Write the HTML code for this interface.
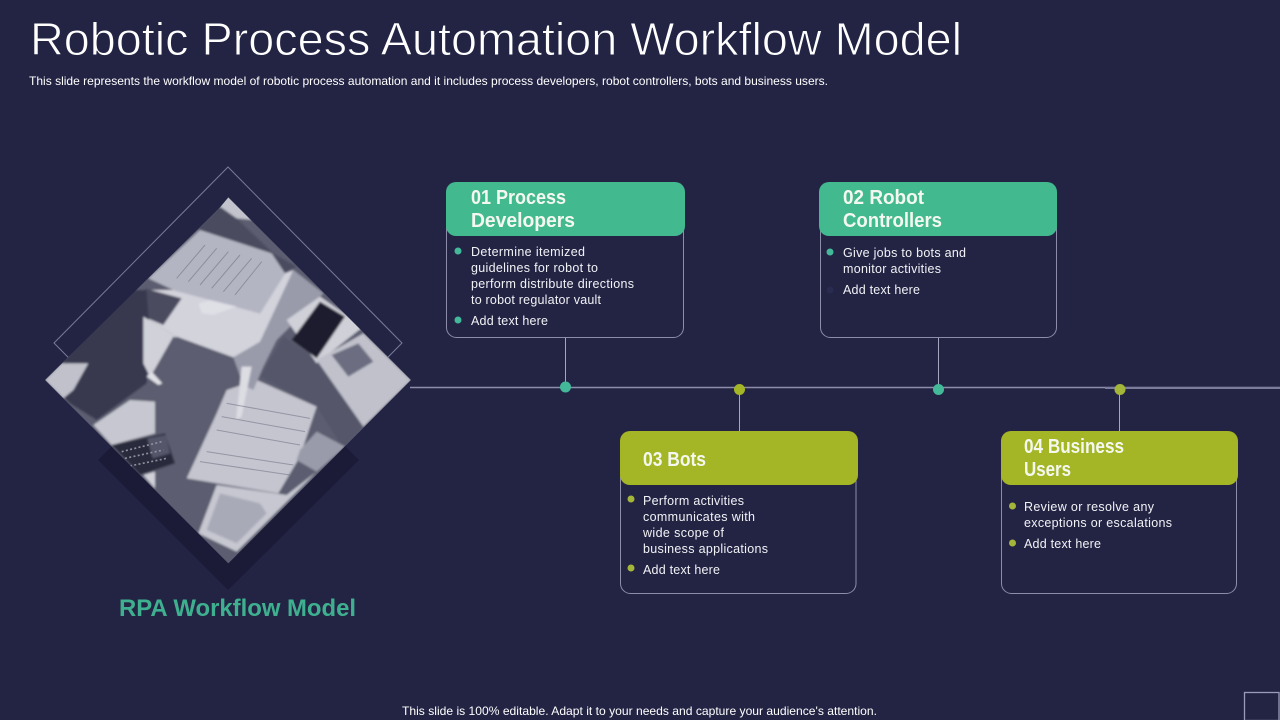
<!DOCTYPE html>
<html><head><meta charset="utf-8"><style>
html,body{margin:0;padding:0;background:#232444;width:1280px;height:720px;overflow:hidden}
svg{display:block}
text{font-family:"Liberation Sans",sans-serif;fill:#fff}
.b{font-size:12.5px;fill:#f2f2f6}
.h{font-size:20px;font-weight:bold;fill:#f4f8f0}
</style></head><body>
<svg width="1280" height="720" viewBox="0 0 1280 720" xmlns="http://www.w3.org/2000/svg">
<defs>
<clipPath id="dia"><polygon points="570,172 595,142 1143,690 595,1240 45,690"/></clipPath>
<filter id="soft"><feGaussianBlur stdDeviation="3"/></filter>
</defs>
<rect width="1280" height="720" fill="#232444"/>
<text x="30" y="55" font-size="46" stroke="#232444" stroke-width="0.9" textLength="932" lengthAdjust="spacingAndGlyphs">Robotic Process Automation Workflow Model</text>
<text x="29" y="85" font-size="12" textLength="799" lengthAdjust="spacingAndGlyphs">This slide represents the workflow model of robotic process automation and it includes process developers, robot controllers, bots and business users.</text>

<polygon points="228,167 402,343 228,519 54,343" fill="none" stroke="#7a7b9c" stroke-width="1"/>
<polygon points="228,330 359,460 228,590 98,460" fill="#1b1b38"/>

<g transform="translate(30,150) scale(0.33333)">
<g clip-path="url(#dia)">
<g filter="url(#soft)">
<rect x="0" y="100" width="1200" height="1200" fill="#5c5d70"/>
<polygon points="560,170 595,135 670,210 620,205" fill="#c2c3cd"/>
<polygon points="500,240 570,170 620,205 730,310 800,350 760,370 725,310 510,240" fill="#4b4c60"/>
<polygon points="355,385 510,240 725,310 765,370 690,490 430,420" fill="#b4b5c2"/>
<polygon points="430,420 690,490 765,370 790,360 720,560 610,622 440,560 340,500 355,420" fill="#d2d3db"/>
<polygon points="345,415 455,445 400,525 340,500" fill="#4b4c60"/>
<polygon points="130,600 300,420 350,420 360,560 350,700 200,810 120,760 50,690" fill="#38394f"/>
<polygon points="45,690 95,640 175,640 130,720 100,745" fill="#c0c1cb"/>
<polygon points="340,500 440,560 360,680 340,640" fill="#d0d1d9"/>
<polygon points="430,560 600,620 600,1240 540,1170 370,1000 375,750 350,700" fill="#5c5d70"/>
<polygon points="190,825 300,750 375,755 375,850 245,885" fill="#c6c7d0"/>
<polygon points="245,885 405,850 435,940 330,975" fill="#2a2b3e"/>
<polygon points="352,865 408,855 420,910 368,925" fill="#55566a"/>
<polygon points="340,975 375,965 375,1015" fill="#d0d1d9"/>
<polygon points="690,680 760,560 860,630 1000,830 940,895 860,770" fill="#55566a"/>
<polygon points="590,720 680,690 860,770 810,920 745,1030 470,985 560,790" fill="#c4c5cf"/>
<polygon points="790,360 880,430 740,570 700,650 670,720 640,705 610,622 690,575" fill="#9a9baa"/>
<polygon points="770,510 870,440 1000,530 860,640" fill="#cfd0d8"/>
<polygon points="785,570 870,455 945,500 860,625" fill="#1c1d2e"/>
<polygon points="860,630 1000,550 1143,690 1000,830" fill="#c0c1cb"/>
<polygon points="905,615 985,580 1030,635 955,680" fill="#6c6d80"/>
<polygon points="505,1150 560,1005 770,1035 860,965 620,1205" fill="#c6c7d0"/>
<polygon points="530,1140 570,1030 690,1060 710,1090 620,1180" fill="#a9aab8"/>
<polygon points="810,900 860,845 945,890 860,965 800,930" fill="#9a9baa"/>
<polygon points="635,650 665,650 635,800 618,810" fill="#dcdde3"/>
<polygon points="350,680 365,665 397,700 385,705" fill="#e0e1e7"/>
<polygon points="505,460 540,450 620,470 550,495 515,490" fill="#dfe0e6"/>
</g>
<g stroke="#6d6e80" stroke-width="3" opacity="0.55">
<line x1="440" y1="385" x2="525" y2="285"/><line x1="475" y1="395" x2="560" y2="295"/><line x1="510" y1="405" x2="595" y2="305"/><line x1="545" y1="415" x2="630" y2="315"/><line x1="580" y1="425" x2="665" y2="325"/><line x1="615" y1="435" x2="695" y2="335"/>
<line x1="510" y1="935" x2="780" y2="975"/><line x1="530" y1="905" x2="790" y2="945"/><line x1="590" y1="760" x2="840" y2="805"/><line x1="575" y1="800" x2="825" y2="845"/><line x1="560" y1="840" x2="810" y2="885"/>
</g>
<g stroke="#8f909e" stroke-width="5" stroke-dasharray="6 7">
<line x1="275" y1="905" x2="395" y2="875"/><line x1="285" y1="925" x2="400" y2="900"/><line x1="300" y1="948" x2="410" y2="925"/>
</g>
</g>
</g>

<text x="119" y="616" font-size="24" font-weight="bold" style="fill:#3fb08f" textLength="237" lengthAdjust="spacingAndGlyphs">RPA Workflow Model</text>

<line x1="410" y1="387.5" x2="1280" y2="387.5" stroke="#8d8daa" stroke-width="1.5"/>
<line x1="1105" y1="388" x2="1280" y2="388" stroke="#7b7b9c" stroke-width="2"/>
<line x1="565.5" y1="338" x2="565.5" y2="387" stroke="#a5a6c0" stroke-width="1"/>
<line x1="739.5" y1="389" x2="739.5" y2="431" stroke="#a5a6c0" stroke-width="1"/>
<line x1="938.5" y1="338" x2="938.5" y2="389" stroke="#a5a6c0" stroke-width="1"/>
<line x1="1119.5" y1="389" x2="1119.5" y2="431" stroke="#a5a6c0" stroke-width="1"/>
<circle cx="565.5" cy="387" r="5.5" fill="#43b999"/>
<circle cx="739.5" cy="389.5" r="5.5" fill="#a4b625"/>
<circle cx="938.5" cy="389.5" r="5.5" fill="#43b999"/>
<circle cx="1120" cy="389.5" r="5.5" fill="#a4b63a"/>

<!-- Box 1 -->
<rect x="446.5" y="200" width="237" height="137.5" rx="10" fill="#232444" stroke="#8d8daa" stroke-width="1"/>
<rect x="446" y="182" width="239" height="54" rx="10" fill="#43b98f"/>
<text class="h" x="471" y="204" textLength="95" lengthAdjust="spacingAndGlyphs">01 Process</text>
<text class="h" x="471" y="227" textLength="104" lengthAdjust="spacingAndGlyphs">Developers</text>
<circle cx="458" cy="251" r="3.5" fill="#43b99a"/>
<text class="b" x="471" y="256" textLength="114" lengthAdjust="spacing">Determine itemized</text>
<text class="b" x="471" y="272" textLength="127" lengthAdjust="spacing">guidelines for robot to</text>
<text class="b" x="471" y="288" textLength="163" lengthAdjust="spacing">perform distribute directions</text>
<text class="b" x="471" y="304" textLength="130" lengthAdjust="spacing">to robot regulator vault</text>
<circle cx="458" cy="320" r="3.5" fill="#43b99a"/>
<text class="b" x="471" y="325" textLength="77" lengthAdjust="spacing">Add text here</text>

<!-- Box 2 -->
<rect x="820.5" y="200" width="236" height="137.5" rx="10" fill="#232444" stroke="#8d8daa" stroke-width="1"/>
<rect x="819" y="182" width="238" height="54" rx="10" fill="#43b98f"/>
<text class="h" x="843" y="204" textLength="81" lengthAdjust="spacingAndGlyphs">02 Robot</text>
<text class="h" x="843" y="227" textLength="99" lengthAdjust="spacingAndGlyphs">Controllers</text>
<circle cx="830" cy="252" r="3.5" fill="#43b99a"/>
<text class="b" x="843" y="257" textLength="123" lengthAdjust="spacing">Give jobs to bots and</text>
<text class="b" x="843" y="273" textLength="98" lengthAdjust="spacing">monitor activities</text>
<circle cx="830" cy="290" r="3.5" fill="#2a2b50"/>
<text class="b" x="843" y="294" textLength="77" lengthAdjust="spacing">Add text here</text>

<!-- Box 3 -->
<rect x="620.5" y="450" width="235.5" height="143.5" rx="10" fill="#232444" stroke="#8d8daa" stroke-width="1"/>
<rect x="620" y="431" width="238" height="54" rx="10" fill="#a4b625"/>
<text class="h" x="643" y="466" textLength="63" lengthAdjust="spacingAndGlyphs">03 Bots</text>
<circle cx="631" cy="499" r="3.5" fill="#a4b63a"/>
<text class="b" x="643" y="505" textLength="101" lengthAdjust="spacing">Perform activities</text>
<text class="b" x="643" y="521" textLength="112" lengthAdjust="spacing">communicates with</text>
<text class="b" x="643" y="537" textLength="81" lengthAdjust="spacing">wide scope of</text>
<text class="b" x="643" y="553" textLength="125" lengthAdjust="spacing">business applications</text>
<circle cx="631" cy="568" r="3.5" fill="#a4b63a"/>
<text class="b" x="643" y="574" textLength="77" lengthAdjust="spacing">Add text here</text>

<!-- Box 4 -->
<rect x="1001.5" y="450" width="235" height="143.5" rx="10" fill="#232444" stroke="#8d8daa" stroke-width="1"/>
<rect x="1001" y="431" width="237" height="54" rx="10" fill="#a4b625"/>
<text class="h" x="1024" y="453" textLength="100" lengthAdjust="spacingAndGlyphs">04 Business</text>
<text class="h" x="1024" y="476" textLength="47" lengthAdjust="spacingAndGlyphs">Users</text>
<circle cx="1012.5" cy="506" r="3.5" fill="#a4b63a"/>
<text class="b" x="1024" y="511" textLength="130" lengthAdjust="spacing">Review or resolve any</text>
<text class="b" x="1024" y="527" textLength="148" lengthAdjust="spacing">exceptions or escalations</text>
<circle cx="1012.5" cy="543" r="3.5" fill="#a4b63a"/>
<text class="b" x="1024" y="548" textLength="77" lengthAdjust="spacing">Add text here</text>

<text x="402" y="715" font-size="12" textLength="475" lengthAdjust="spacingAndGlyphs">This slide is 100% editable. Adapt it to your needs and capture your audience's attention.</text>
<rect x="1244.5" y="692.5" width="34.5" height="28" fill="none" stroke="#9a9bb8" stroke-width="1.3"/>
</svg>
</body></html>
